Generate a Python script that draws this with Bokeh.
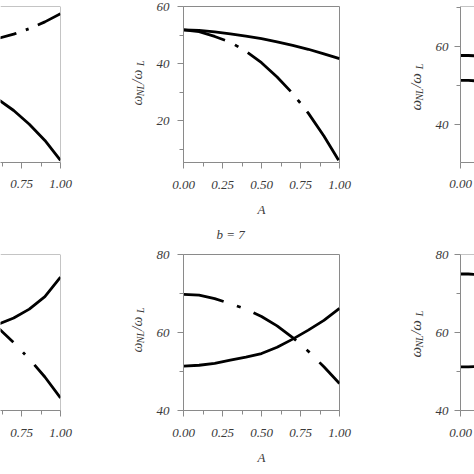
import math
from bokeh.plotting import figure
from bokeh.models import Range1d, FixedTicker, Label, NumeralTickFormatter, Title, Span
from bokeh.layouts import row, column
from bokeh.embed import file_html
from bokeh.resources import INLINE

# ---------------- data ----------------
A_left = [0.6, 0.7, 0.8, 0.9, 1.0]
A_mid = [0.0, 0.1, 0.2, 0.3, 0.4, 0.5, 0.6, 0.7, 0.8, 0.9, 1.0]
A_right = [0.0, 0.05, 0.1]

top_left_solid = [27.3, 23.3, 18.4, 12.6, 5.5]
top_left_dashdot = [49.1, 50.6, 52.6, 55.0, 57.9]
top_mid_solid = [51.8, 51.6, 51.1, 50.4, 49.6, 48.7, 47.6, 46.4, 45.0, 43.4, 41.7]
top_mid_dashdot = [51.8, 51.2, 49.5, 47.5, 44.3, 40.3, 35.3, 29.5, 22.6, 14.6, 5.6]
top_right_solid = [51.3, 51.3, 51.2]
top_right_dashdot = [57.7, 57.7, 57.6]

bot_left_solid = [62.1, 63.7, 66.0, 69.2, 74.2]
bot_left_dashdot = [61.2, 57.4, 53.2, 48.6, 43.2]
bot_mid_solid = [51.4, 51.6, 52.1, 52.9, 53.7, 54.6, 56.2, 58.3, 60.6, 63.1, 66.2]
bot_mid_dashdot = [69.8, 69.6, 68.7, 67.4, 66.0, 64.1, 61.7, 58.7, 55.2, 51.2, 46.9]
bot_right_solid = [51.2, 51.2, 51.3]
bot_right_dashdot = [75.0, 75.0, 74.9]

x_major_ticks = [0.0, 0.25, 0.5, 0.75, 1.0]
x_minor_ticks = [0.125, 0.375, 0.625, 0.875]
top_mid_y_major = [20, 40, 60]
top_mid_y_minor = [10, 30, 50]
top_right_y_major = [40, 60]
top_right_y_minor = [50, 70]
bottom_y_major = [40, 60, 80]
bottom_y_minor = [50, 70]

x_label = "A"
caption = "b = 7"
y_label_parts = [("ω", False), ("NL", True), (" /ω", False), ("L", True)]

# ---------------- style ----------------
FONT = "Liberation Serif"
AXIS_C = "#8a8a8a"
LABEL_C = "#3a3a3a"
LINE_W = 2.8

CHAR_W = {"ω": 0.66, "N": 0.70, "L": 0.58, " ": 0.28, "/": 0.30}

# row geometry (page px): frames of a row are aligned by the layout
TOP_H, TOP_MT, TOP_MB = 246, 6, 84        # frame 6..162
BOT_H, BOT_MT, BOT_MB = 228, 8, 64        # frame 254..410 (row starts at 246)


def make_panel(width, height, mb, rng, y_axis=True):
    x0, x1, y0, y1 = rng
    p = figure(width=width, height=height, x_range=Range1d(x0, x1), y_range=Range1d(y0, y1),
               output_backend="svg", toolbar_location=None, title=None,
               y_axis_location="left" if y_axis else None,
               min_border_left=mb[0], min_border_right=mb[1],
               min_border_top=mb[2], min_border_bottom=mb[3],
               background_fill_color="white", border_fill_color="white")
    p.grid.visible = False
    p.outline_line_color = AXIS_C
    p.outline_line_width = 1
    return p


def label_fig(width, height, mt, mb, frame_top_px, frame_bot_px):
    # y data == page y inside the frame
    p = figure(width=width, height=height, x_range=Range1d(0, width),
               y_range=Range1d(frame_bot_px, frame_top_px),
               output_backend="svg", toolbar_location=None, title=None,
               x_axis_location=None, y_axis_location=None,
               min_border_left=0, min_border_right=0, min_border_top=mt, min_border_bottom=mb,
               background_fill_color="white", border_fill_color="white")
    p.grid.visible = False
    p.outline_line_color = None
    return p


def style_axis(ax, standoff, size="13px"):
    ax.axis_line_color = AXIS_C
    ax.major_tick_line_color = AXIS_C
    ax.minor_tick_line_color = AXIS_C
    ax.major_tick_in = 0
    ax.major_tick_out = 6
    ax.minor_tick_in = 0
    ax.minor_tick_out = 4
    ax.major_label_text_font = FONT
    ax.major_label_text_font_style = "italic"
    ax.major_label_text_font_size = size
    ax.major_label_text_color = LABEL_C
    ax.major_label_standoff = standoff


def frame_borders(p, top=True, right=False):
    p.outline_line_color = None
    if top:
        p.add_layout(Span(location=p.y_range.end, dimension="width", line_color=AXIS_C, line_width=1))
    if right:
        p.add_layout(Span(location=p.x_range.end, dimension="height", line_color=AXIS_C, line_width=1))


def add_y_title(p, base_x, start_y, big, small, shift):
    y = start_y
    for txt, sub in y_label_parts:
        size = small if sub else big
        x = base_x + (shift if sub else 0)
        p.add_layout(Label(x=x, y=y, text=txt, angle=math.pi / 2, text_font=FONT,
                           text_font_style="italic", text_font_size=f"{size}px",
                           text_color=LABEL_C, text_align="left", text_baseline="alphabetic"))
        y -= sum(CHAR_W.get(c, 0.6) for c in txt) * size


def draw(p, A, solid, dashdot, dash, offset):
    p.line(A, solid, line_color="black", line_width=LINE_W)
    p.line(A, dashdot, line_color="black", line_width=LINE_W, line_dash=dash, line_dash_offset=offset)


def x_axis_setup(p, standoff, with_label, label_standoff=10):
    ax = p.below[0]
    ax.ticker = FixedTicker(ticks=x_major_ticks, minor_ticks=x_minor_ticks)
    ax.formatter = NumeralTickFormatter(format="0.00")
    style_axis(ax, standoff)
    if with_label:
        ax.axis_label = x_label
        ax.axis_label_text_font = FONT
        ax.axis_label_text_font_style = "italic"
        ax.axis_label_text_font_size = "13px"
        ax.axis_label_text_color = LABEL_C
        ax.axis_label_standoff = label_standoff


def y_axis_setup(p, major, minor, standoff):
    ax = p.left[0]
    ax.ticker = FixedTicker(ticks=major, minor_ticks=minor)
    style_axis(ax, standoff)


# ranges: x0, x1, y0, y1
r_tl = (1 - 60 / 156, 1.0, 4.7, 60.5)
r_tm = (0.0, 1.0, 5.3, 60.0)
r_tr = (0.0, 14 / 156, 30.26, 70.26)
r_bl = (1 - 60 / 156, 1.0, 40.0, 80.0)
r_bm = (0.0, 1.0, 40.0, 80.0)
r_br = (0.0, 14 / 156, 40.0, 80.0)

# ---- top row ----
tl = make_panel(128, TOP_H, (0, 68, TOP_MT, TOP_MB), r_tl, y_axis=False)
frame_borders(tl, top=True, right=True)
x_axis_setup(tl, 11, False)
draw(tl, A_left, top_left_solid, top_left_dashdot, "55 10 3 10", 36)

lab_tm = label_fig(20, TOP_H, TOP_MT, TOP_MB, 6, 162)
add_y_title(lab_tm, 9, 105, 14, 10, 3)

tm = make_panel(252, TOP_H, (35, 61, TOP_MT, TOP_MB), r_tm)
x_axis_setup(tm, 12, True)
y_axis_setup(tm, top_mid_y_major, top_mid_y_minor, 8)
draw(tm, A_mid, top_mid_solid, top_mid_dashdot, "58 11 4 11", 15)
tm.add_layout(Title(text=caption, align="left", offset=33, standoff=10, text_font=FONT,
                    text_font_style="italic", text_font_size="13px", text_color=LABEL_C), "below")

lab_tr = label_fig(30, TOP_H, TOP_MT, TOP_MB, 6, 162)
add_y_title(lab_tr, 15, 110, 15, 10, 4)

tr = make_panel(44, TOP_H, (30, 0, TOP_MT, TOP_MB), r_tr)
frame_borders(tr, top=True)
x_axis_setup(tr, 11, False)
y_axis_setup(tr, top_right_y_major, top_right_y_minor, 6)
draw(tr, A_right, top_right_solid, top_right_dashdot, "55 13 4 13", 10)

# ---- bottom row ----
bl = make_panel(128, BOT_H, (0, 68, BOT_MT, BOT_MB), r_bl, y_axis=False)
frame_borders(bl, top=True, right=True)
x_axis_setup(bl, 12, False)
draw(bl, A_left, bot_left_solid, bot_left_dashdot, "55 14 3 14", 34)

lab_bm = label_fig(20, BOT_H, BOT_MT, BOT_MB, 254, 410)
add_y_title(lab_bm, 9, 352, 14, 10, 3)

bm = make_panel(252, BOT_H, (35, 61, BOT_MT, BOT_MB), r_bm)
x_axis_setup(bm, 12, True, 10)
y_axis_setup(bm, bottom_y_major, bottom_y_minor, 8)
draw(bm, A_mid, bot_mid_solid, bot_mid_dashdot, "51 14 4 14", 10)

lab_br = label_fig(30, BOT_H, BOT_MT, BOT_MB, 254, 410)
add_y_title(lab_br, 15, 357, 15, 10, 4)

br = make_panel(44, BOT_H, (30, 0, BOT_MT, BOT_MB), r_br)
frame_borders(br, top=True)
x_axis_setup(br, 12, False)
y_axis_setup(br, bottom_y_major, bottom_y_minor, 6)
draw(br, A_right, bot_right_solid, bot_right_dashdot, "55 13 4 13", 10)

layout = column(row(tl, lab_tm, tm, lab_tr, tr), row(bl, lab_bm, bm, lab_br, br),
                styles={"position": "absolute", "left": "0px", "top": "0px"})

open("out.html", "w").write(file_html(layout, INLINE))
